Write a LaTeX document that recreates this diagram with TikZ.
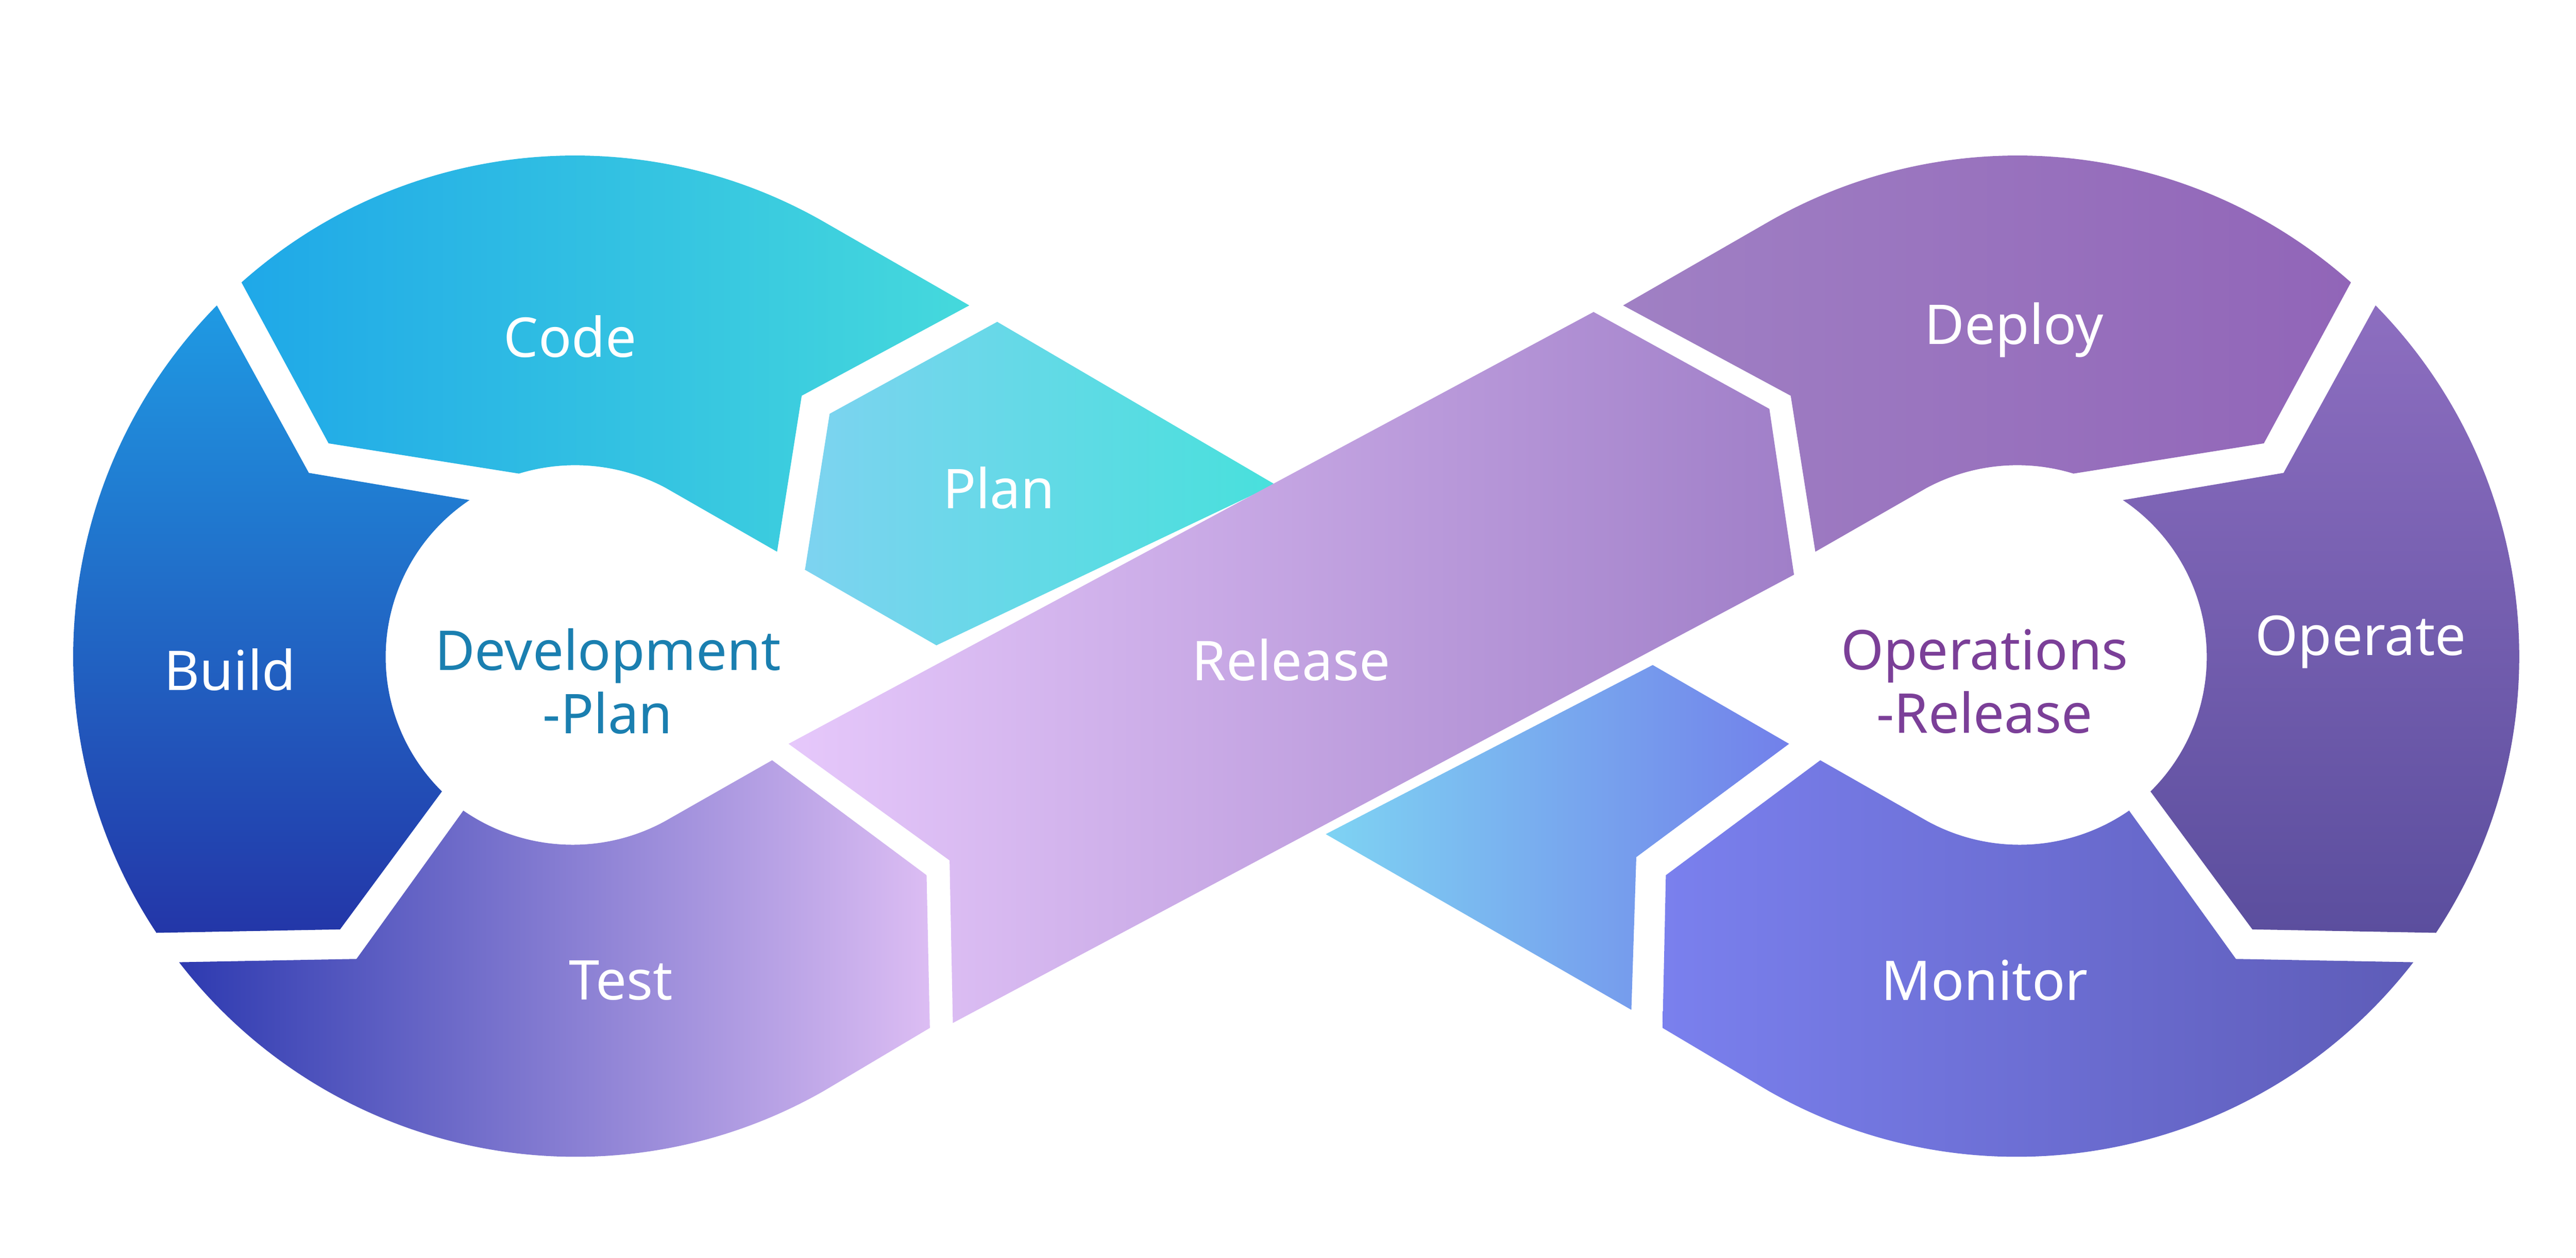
\documentclass[tikz,border=0pt]{standalone}
\usepackage{fontspec}
\setmainfont{Noto Sans}
\begin{document}
\begin{tikzpicture}[x=0.01cm,y=0.01cm,
  lab/.style={text=white,font=\fontsize{9.5pt}{11pt}\selectfont},
  hub/.style={font=\fontsize{9.5pt}{11pt}\selectfont,align=center}]
\useasboundingbox (0,0) rectangle (1568,766);
\fill[white] (0,0) rectangle (1568,766);
% left loop
\shade[left color={rgb,255:red,31;green,168;blue,232},right color={rgb,255:red,69;green,217;blue,220}]
 (147,594) arc[start angle=131.7,end angle=60.5,radius=305] -- (590,580) -- (488,525) -- (473,430) -- (405,469) arc[start angle=62,end angle=107,radius=117] -- (200,496) -- cycle;
\shade[top color={rgb,255:red,31;green,154;blue,227},bottom color={rgb,255:red,35;green,54;blue,168}]
 (132,580) arc[start angle=135.5,end angle=213.5,radius=305] -- (207,200) -- (269,284) arc[start angle=225.4,end angle=123.8,radius=115] -- (188,478) -- cycle;
\shade[left color={rgb,255:red,45;green,58;blue,176},right color={rgb,255:red,220;green,189;blue,243}]
 (109,180) arc[start angle=217.7,end angle=299.7,radius=305] -- (566,140) -- (564,233) -- (470,303) -- (405,266) arc[start angle=298.8,end angle=235.3,radius=117] -- (217,182) -- cycle;
\shade[left color={rgb,255:red,125;green,211;blue,240},right color={rgb,255:red,72;green,224;blue,220}]
 (505,514) -- (607,570) -- (776,471) -- (570,373) -- (490,419) -- cycle;
% release band
\shade[left color={rgb,255:red,230;green,200;blue,251},right color={rgb,255:red,160;green,127;blue,200}]
 (480,313) -- (970,576) -- (1077,517) -- (1092,416) -- (580,143) -- (578,242) -- cycle;
\shade[left color={rgb,255:red,126;green,211;blue,243},right color={rgb,255:red,114;green,128;blue,234}]
 (807,258) -- (1006,361) -- (1089,313) -- (996,244) -- (993,151) -- cycle;
% right loop
\shade[left color={rgb,255:red,160;green,128;blue,196},right color={rgb,255:red,145;green,101;blue,184}]
 (1431,594) arc[start angle=48.3,end angle=119.5,radius=305] -- (988,580) -- (1090,525) -- (1105,430) -- (1173,469) arc[start angle=118,end angle=73,radius=117] -- (1378,496) -- cycle;
\shade[top color={rgb,255:red,141;green,110;blue,192},bottom color={rgb,255:red,91;green,78;blue,158}]
 (1446,580) arc[start angle=44.5,end angle=-33.5,radius=305] -- (1371,200) -- (1309,284) arc[start angle=-45.4,end angle=56.2,radius=115] -- (1390,478) -- cycle;
\shade[left color={rgb,255:red,122;green,128;blue,238},right color={rgb,255:red,94;green,92;blue,184}]
 (1469,180) arc[start angle=-37.7,end angle=-119.7,radius=305] -- (1012,140) -- (1014,233) -- (1108,303) -- (1173,266) arc[start angle=-118.8,end angle=-55.3,radius=117] -- (1361,182) -- cycle;
% labels
\node[lab] (code) at (347,561) {Code};
\node[lab] (plan) at (608,469) {Plan};
\node[lab] (build) at (140,358) {Build};
\node[lab] (test) at (378,169) {Test};
\node[lab] (release) at (786,364) {Release};
\node[lab] (deploy) at (1226,565) {Deploy};
\node[lab] (operate) at (1437,375) {Operate};
\node[lab] (monitor) at (1208,169) {Monitor};
\node[hub,text={rgb,255:red,26;green,127;blue,176}] (dev) at (370,351) {Development\\-Plan};
\node[hub,text={rgb,255:red,123;green,63;blue,152}] (ops) at (1208,351) {Operations\\-Release};
\end{tikzpicture}
\end{document}
